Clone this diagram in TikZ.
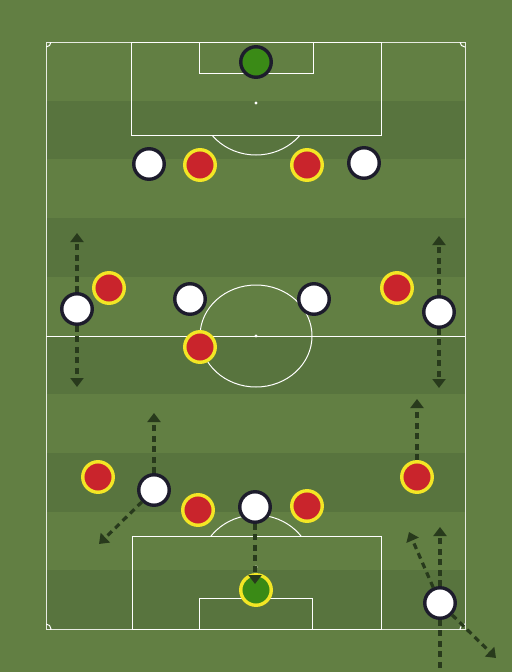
\documentclass[tikz,border=0pt]{standalone}
\usetikzlibrary{arrows.meta,shadows}
\definecolor{grass}{HTML}{627F43}
\definecolor{grassdark}{HTML}{58743E}
\definecolor{kitred}{HTML}{C9242C}
\definecolor{kityellow}{HTML}{F3E625}
\definecolor{kitdark}{HTML}{1D1C2C}
\definecolor{keeper}{HTML}{3A8A16}
\definecolor{runline}{HTML}{283A1C}
\tikzset{
  pline/.style={draw=white, line width=1pt},
  player/.style={circle, minimum size=30.5pt, inner sep=0pt, line width=3.4pt,
    drop shadow={opacity=0.25, shadow xshift=0.6pt, shadow yshift=-1.2pt}},
  wp/.style={player, fill=white, draw=kitdark},
  rp/.style={player, fill=kitred, draw=kityellow},
  gkdark/.style={player, fill=keeper, draw=kitdark},
  gkyellow/.style={player, fill=keeper, draw=kityellow},
  run/.style={draw=runline, line width=3.2pt, dash pattern=on 6pt off 4.5pt,
    -{Triangle[length=9pt,width=13pt]}},
  runplain/.style={draw=runline, line width=3.2pt, dash pattern=on 6pt off 4.5pt}
}
\begin{document}
\begin{tikzpicture}[x=1pt,y=-1pt]
\useasboundingbox (0,0) rectangle (512,672);
\fill[grass] (0,0) rectangle (512,672);
% stripes
\foreach \k in {1,3,5,7,9}{
  \fill[grassdark] (46,{42+58.7*\k}) rectangle (465,{42+58.7*(\k+1)});
}
% pitch outline and lines
\draw[pline, draw opacity=0.85] (46,42) rectangle (465,629);
\draw[pline] (46,336) -- (465,336);
\draw[pline] (256,336) ellipse [x radius=56pt, y radius=51pt];
\fill[white] (256,336) circle [radius=1.6pt];
% top penalty area
\draw[pline] (131,42) rectangle (381,135);
\draw[pline] (199,42) rectangle (313,73);
\fill[white] (256,103) circle [radius=1.6pt];
\begin{scope}
  \clip (131,135) rectangle (381,200);
  \draw[pline] (256,103) ellipse [x radius=56pt, y radius=52pt];
\end{scope}
% bottom penalty area
\draw[pline] (132,536) rectangle (381,629);
\draw[pline] (199,598) rectangle (312,629);
\fill[white] (256,567) circle [radius=1.6pt];
\begin{scope}
  \clip (132,470) rectangle (381,536);
  \draw[pline] (256,567) ellipse [x radius=56pt, y radius=52pt];
\end{scope}
% corner arcs
\begin{scope}
  \clip (46,42) rectangle (465,629);
  \draw[pline] (46,42) circle [radius=5pt];
  \draw[pline] (465,42) circle [radius=5pt];
  \draw[pline] (46,629) circle [radius=5pt];
  \draw[pline] (465,629) circle [radius=5pt];
\end{scope}
% players
\node[gkdark] (gkA) at (256,62) {};
\node[wp] (w1) at (149,164) {};
\node[rp] (r1) at (200,165) {};
\node[rp] (r2) at (307,165) {};
\node[wp] (w2) at (364,163) {};
\node[rp] (r3) at (109,288) {};
\node[wp] (w3) at (77,309) {};
\node[wp] (w4) at (190,299) {};
\node[wp] (w5) at (314,299) {};
\node[rp] (r4) at (397,288) {};
\node[wp] (w6) at (439,312) {};
\node[rp] (r5) at (200,347) {};
\node[rp] (r6) at (98,477) {};
\node[wp] (w7) at (154,490) {};
\node[rp] (r7) at (198,510) {};
\node[wp] (w8) at (255,507) {};
\node[rp] (r8) at (307,506) {};
\node[rp] (r9) at (417,477) {};
\node[gkyellow] (gkB) at (256,590) {};
\node[wp] (w9) at (440,603) {};
% run targets
\coordinate (a1) at (77,233);
\coordinate (a2) at (77,387);
\coordinate (a3) at (439,236);
\coordinate (a4) at (439,388);
\coordinate (a5) at (154,413);
\coordinate (a6) at (99,544);
\coordinate (a7) at (255,584);
\coordinate (a8) at (417,399);
\coordinate (a9) at (440,527);
\coordinate (a10) at (409,532);
\coordinate (a11) at (496,658);
\coordinate (a12) at (440,672);
% runs
\draw[run] (w3) -- (a1);
\draw[run] (w3) -- (a2);
\draw[run] (w6) -- (a3);
\draw[run] (w6) -- (a4);
\draw[run] (w7) -- (a5);
\draw[run] (w7) -- (a6);
\draw[run] (w8) -- (a7);
\draw[run] (r9) -- (a8);
\draw[run] (w9) -- (a9);
\draw[run] (w9) -- (a10);
\draw[run] (w9) -- (a11);
\draw[runplain] (w9) -- (a12);
\end{tikzpicture}
\end{document}
